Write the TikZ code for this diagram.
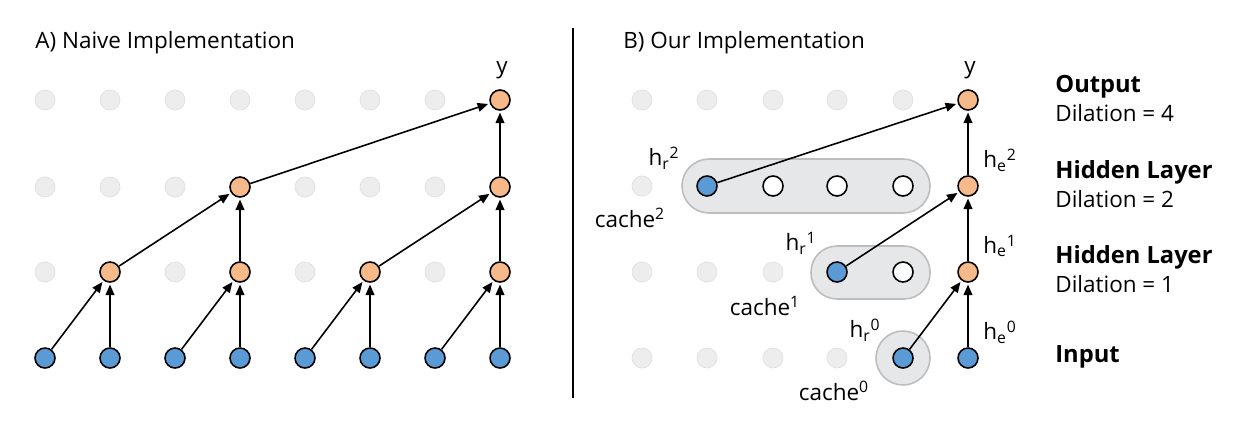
\documentclass[tikz,border=0pt]{standalone}
\usepackage{fontspec}
\setmainfont{Open Sans}
\usetikzlibrary{arrows.meta}
\definecolor{org}{HTML}{F8B98A}
\definecolor{blu}{HTML}{5B9BD5}
\definecolor{gd}{HTML}{EDEDED}
\definecolor{gde}{HTML}{E0E0E0}
\definecolor{cf}{HTML}{E6E7E8}
\definecolor{ce}{HTML}{BDBDBD}
\begin{document}
\begin{tikzpicture}[x=0.02cm,y=-0.02cm,
  n/.style={circle,minimum size=20*0.02cm,inner sep=0pt,draw=black,line width=0.9pt},
  o/.style={n,fill=org}, b/.style={n,fill=blu}, w/.style={n,fill=white},
  g/.style={circle,minimum size=20*0.02cm,inner sep=0pt,fill=gd,draw=gde},
  a/.style={-{Triangle[length=6pt,width=5pt]},line width=0.9pt,shorten >=1pt},
  cache/.style={fill=cf,draw=ce,line width=0.9pt},
  t/.style={font=\fontsize{12.8}{15}\selectfont,inner sep=0pt},
  tb/.style={font=\fontsize{13.5}{16}\selectfont\bfseries,inner sep=0pt,anchor=west}]
\useasboundingbox (0,0) rectangle (1246,426);
% panel A
\node[t,anchor=west] (ta) at (35,43) {A) Naive Implementation};
\foreach \i/\x in {1/45,2/110,3/175,4/240,5/305,6/370,7/435,8/500}{
  \node[b] (a4\i) at (\x,358) {};
}
\foreach \i/\x in {1/45,3/175,5/305,7/435}{\node[g] (a3\i) at (\x,272) {};}
\foreach \i/\x in {2/110,4/240,6/370,8/500}{\node[o] (a3\i) at (\x,272) {};}
\foreach \i/\x in {1/45,2/110,3/175,5/305,6/370,7/435}{\node[g] (a2\i) at (\x,187) {};}
\foreach \i/\x in {4/240,8/500}{\node[o] (a2\i) at (\x,187) {};}
\foreach \i/\x in {1/45,2/110,3/175,4/240,5/305,6/370,7/435}{\node[g] (a1\i) at (\x,100) {};}
\node[o] (a18) at (500,100) {};
\node[t] (ay) at (502,70) {y};
\foreach \s/\d in {1/2,2/2,3/4,4/4,5/6,6/6,7/8,8/8}{\draw[a] (a4\s) -- (a3\d);}
\foreach \s/\d in {2/4,4/4,6/8,8/8}{\draw[a] (a3\s) -- (a2\d);}
\draw[a] (a24) -- (a18); \draw[a] (a28) -- (a18);
% divider
\draw[line width=1pt] (573,28) -- (573,398);
% panel B
\node[t,anchor=west] (tb) at (623,43) {B) Our Implementation};
\draw[cache,rounded corners=27*0.02cm] (682,159) rectangle (930,213);
\draw[cache,rounded corners=26*0.02cm] (811,246) rectangle (930,299);
\draw[cache] (903,358) circle[radius=27*0.02cm];
\foreach \i/\x in {1/642,2/707,3/773,4/837,5/903}{\node[g] (b1\i) at (\x,100) {};}
\node[o] (b16) at (968,100) {};
\node[g] (b21) at (642,186) {};
\node[b] (b22) at (707,186) {};
\foreach \i/\x in {3/773,4/837,5/903}{\node[w] (b2\i) at (\x,186) {};}
\node[o] (b26) at (968,186) {};
\foreach \i/\x in {1/642,2/707,3/773}{\node[g] (b3\i) at (\x,272) {};}
\node[b] (b34) at (837,272) {};
\node[w] (b35) at (903,272) {};
\node[o] (b36) at (968,272) {};
\foreach \i/\x in {1/642,2/707,3/773,4/837}{\node[g] (b4\i) at (\x,358) {};}
\node[b] (b45) at (903,358) {};
\node[b] (b46) at (968,358) {};
\node[t] (by) at (970,70) {y};
\draw[a] (b45) -- (b36); \draw[a] (b46) -- (b36);
\draw[a] (b34) -- (b26); \draw[a] (b36) -- (b26);
\draw[a] (b22) -- (b16); \draw[a] (b26) -- (b16);
\node[t] (hr2) at (664,158) {h\textsubscript{r}\textsuperscript{2}};
\node[t] (hr1) at (801,243) {h\textsubscript{r}\textsuperscript{1}};
\node[t] (hr0) at (865,330) {h\textsubscript{r}\textsuperscript{0}};
\node[t] (he2) at (1000,160) {h\textsubscript{e}\textsuperscript{2}};
\node[t] (he1) at (1000,246) {h\textsubscript{e}\textsuperscript{1}};
\node[t] (he0) at (1000,332) {h\textsubscript{e}\textsuperscript{0}};
\node[t] (c2) at (630,218) {cache\textsuperscript{2}};
\node[t] (c1) at (765,306) {cache\textsuperscript{1}};
\node[t] (c0) at (834,391) {cache\textsuperscript{0}};
% right labels
\node[tb] (l1) at (1055,87) {Output};
\node[t,anchor=west] (l2) at (1055,113) {Dilation = 4};
\node[tb] (l3) at (1055,172) {Hidden Layer};
\node[t,anchor=west] (l4) at (1055,199) {Dilation = 2};
\node[tb] (l5) at (1055,257) {Hidden Layer};
\node[t,anchor=west] (l6) at (1055,284) {Dilation = 1};
\node[tb] (l7) at (1055,357) {Input};
\end{tikzpicture}
\end{document}
